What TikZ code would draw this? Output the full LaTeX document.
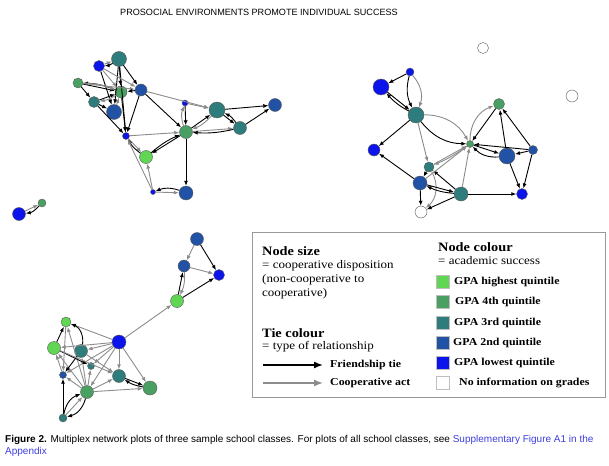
\documentclass[tikz,border=0pt]{standalone}
\usepackage{fontspec}
\setmainfont{Liberation Serif}
\newfontfamily\legfont[FakeStretch=1.12]{Liberation Serif}
\newfontfamily\capfont{Liberation Sans}
\usetikzlibrary{arrows.meta}

\definecolor{gpatop}{RGB}{96,214,84}
\definecolor{gpafour}{RGB}{74,160,98}
\definecolor{gpathree}{RGB}{46,124,124}
\definecolor{gpatwo}{RGB}{34,82,166}
\definecolor{gpalow}{RGB}{12,20,236}
\definecolor{coopgray}{RGB}{140,140,140}
\definecolor{linkblue}{RGB}{62,62,222}

\begin{document}
\begin{tikzpicture}[
		x=1pt, y=-1pt,
		vx/.style={circle, draw=black!65, line width=0.4pt, inner sep=0pt},
		top/.style={vx, fill=gpatop},
		fourth/.style={vx, fill=gpafour},
		third/.style={vx, fill=gpathree},
		second/.style={vx, fill=gpatwo},
		low/.style={vx, fill=gpalow},
		nogpa/.style={vx, fill=white},
		friend/.style={-{Latex[length=5pt,width=4pt]}, black, line width=0.9pt},
		coop/.style={-{Latex[length=5pt,width=4pt]}, coopgray, line width=0.9pt},
		swatch/.style={rectangle, draw=black!25, minimum size=13, inner sep=0pt},
		heading/.style={anchor=west, inner sep=0pt, font=\legfont\fontsize{12.8}{15}\selectfont\bfseries},
		plain/.style={anchor=west, inner sep=0pt, font=\legfont\fontsize{11.6}{14}\selectfont},
		label/.style={anchor=west, inner sep=0pt, font=\legfont\fontsize{10.6}{12}\selectfont\bfseries},
	]
	\useasboundingbox (0,0) rectangle (609,465);

	% title and caption
	\node[font=\capfont\fontsize{9.1}{11}\selectfont] (title) at (259,12) {PROSOCIAL ENVIRONMENTS PROMOTE INDIVIDUAL SUCCESS};
	\node[anchor=north west, inner sep=0pt, align=left, font=\capfont\fontsize{10}{11.6}\selectfont] (caption) at (5,435)
		{\textbf{Figure 2.} Multiplex network plots of three sample school classes. For plots of all school classes, see \textcolor{linkblue}{Supplementary Figure A1 in the}\\\textcolor{linkblue}{Appendix}};

	% class 1 (top left)
	\node[third, minimum size=15] (a1) at (119,59) {};
	\node[low, minimum size=11] (a2) at (99,66) {};
	\node[fourth, minimum size=10] (a3) at (78,83) {};
	\node[fourth, minimum size=12] (a4) at (121,92) {};
	\node[second, minimum size=12] (a5) at (141,90) {};
	\node[third, minimum size=11] (a6) at (94,102) {};
	\node[second, minimum size=15] (a7) at (114,112) {};
	\node[low, minimum size=7] (a8) at (126,136) {};
	\node[low, minimum size=6] (a9) at (185,103) {};
	\node[third, minimum size=16] (a10) at (217,110) {};
	\node[second, minimum size=13] (a11) at (275,105) {};
	\node[third, minimum size=13] (a12) at (240,128) {};
	\node[fourth, minimum size=13] (a13) at (186,132) {};
	\node[top, minimum size=13] (a14) at (146,157) {};
	\node[low, minimum size=5] (a15) at (153,192) {};
	\node[second, minimum size=14] (a16) at (186,193) {};
	\node[low, minimum size=13] (a17) at (19,214) {};
	\node[fourth, minimum size=8] (a18) at (42,203) {};

	\draw[coop] (a2) -- (a1);
	\draw[friend] (a1) to[bend left=15] (a2);
	\draw[friend] (a1) -- (a5);
	\draw[friend] (a1) -- (a4);
	\draw[friend] (a1) -- (a7);
	\draw[friend] (a1) -- (a8);
	\draw[coop] (a2) -- (a4);
	\draw[coop] (a2) -- (a5);
	\draw[friend] (a2) -- (a7);
	\draw[friend] (a3) -- (a4);
	\draw[friend] (a4) to[bend right=10] (a3);
	\draw[coop] (a3) to[bend left=10] (a4);
	\draw[friend] (a3) -- (a6);
	\draw[coop] (a3) -- (a5);
	\draw[friend] (a6) -- (a4);
	\draw[coop] (a4) to[bend left=12] (a6);
	\draw[friend] (a6) -- (a7);
	\draw[friend] (a6) -- (a8);
	\draw[coop] (a7) -- (a4);
	\draw[friend] (a4) -- (a8);
	\draw[friend] (a5) -- (a8);
	\draw[friend] (a5) -- (a4);
	\draw[coop] (a5) -- (a10);
	\draw[friend] (a5) -- (a13);
	\draw[coop] (a8) -- (a13);
	\draw[coop] (a9) -- (a10);
	\draw[friend] (a9) -- (a13);
	\draw[coop] (a13) to[bend left=20] (a9);
	\draw[friend] (a13) -- (a10);
	\draw[coop] (a10) to[bend left=12] (a13);
	\draw[coop] (a13) -- (a12);
	\draw[friend] (a12) to[bend left=8] (a13);
	\draw[friend] (a10) -- (a11);
	\draw[friend] (a10) -- (a12);
	\draw[friend] (a12) to[bend right=15] (a10);
	\draw[friend] (a12) -- (a11);
	\draw[friend] (a13) -- (a16);
	\draw[friend] (a13) -- (a14);
	\draw[friend] (a14) to[bend left=8] (a13);
	\draw[coop] (a8) -- (a14);
	\draw[friend] (a14) to[bend left=12] (a8);
	\draw[coop] (a15) -- (a8);
	\draw[coop] (a15) -- (a14);
	\draw[coop] (a15) -- (a16);
	\draw[friend] (a16) to[bend right=20] (a15);
	\draw[coop] (a17) -- (a18);
	\draw[friend] (a18) to[bend left=20] (a17);

	% class 2 (top right)
	\node[nogpa, minimum size=11] (b1) at (483,48) {};
	\node[nogpa, minimum size=12] (b2) at (572,96) {};
	\node[low, minimum size=8] (b3) at (410,72) {};
	\node[low, minimum size=16] (b4) at (381,87) {};
	\node[third, minimum size=16] (b5) at (416,115) {};
	\node[low, minimum size=12] (b6) at (374,150) {};
	\node[fourth, minimum size=7] (b7) at (470,144) {};
	\node[fourth, minimum size=11] (b8) at (499,104) {};
	\node[second, minimum size=16] (b9) at (507,156) {};
	\node[second, minimum size=9] (b10) at (533,150) {};
	\node[third, minimum size=10] (b11) at (429,167) {};
	\node[second, minimum size=14] (b12) at (420,183) {};
	\node[third, minimum size=14] (b13) at (461,194) {};
	\node[low, minimum size=11] (b14) at (522,194) {};
	\node[nogpa, minimum size=12] (b15) at (421,212) {};

	\draw[friend] (b3) -- (b4);
	\draw[friend] (b3) to[bend right=20] (b5);
	\draw[coop] (b3) to[bend left=30] (b5);
	\draw[friend] (b4) -- (b5);
	\draw[friend] (b5) to[bend left=10] (b4);
	\draw[friend] (b5) -- (b6);
	\draw[coop] (b5) -- (b11);
	\draw[friend] (b5) to[bend right=25] (b7);
	\draw[coop] (b5) to[bend left=30] (b7);
	\draw[coop] (b7) to[bend left=35] (b8);
	\draw[friend] (b8) -- (b7);
	\draw[friend] (b7) -- (b9);
	\draw[friend] (b9) to[bend left=25] (b7);
	\draw[friend] (b10) -- (b7);
	\draw[friend] (b10) -- (b8);
	\draw[friend] (b9) -- (b8);
	\draw[friend] (b10) -- (b9);
	\draw[friend] (b9) -- (b14);
	\draw[friend] (b10) -- (b14);
	\draw[friend] (b12) -- (b6);
	\draw[coop] (b11) to[bend left=40] (b15);
	\draw[friend] (b12) -- (b15);
	\draw[friend] (b12) -- (b13);
	\draw[friend] (b13) to[bend left=10] (b12);
	\draw[friend] (b13) -- (b11);
	\draw[friend] (b11) -- (b12);
	\draw[friend] (b13) -- (b15);
	\draw[friend] (b13) -- (b14);
	\draw[coop] (b13) -- (b7);
	\draw[coop] (b11) -- (b7);
	\draw[coop] (b7) to[bend left=6] (b11);
	\draw[coop] (b12) -- (b7);

	% class 3 (bottom left)
	\node[second, minimum size=13] (c1) at (197,239) {};
	\node[second, minimum size=12] (c2) at (184,266) {};
	\node[low, minimum size=11] (c3) at (219,275) {};
	\node[top, minimum size=13] (c4) at (177,301) {};
	\node[low, minimum size=14] (c5) at (119,342) {};
	\node[top, minimum size=10] (c6) at (66,322) {};
	\node[top, minimum size=13] (c7) at (54,348) {};
	\node[third, minimum size=13] (c8) at (81,351) {};
	\node[third, minimum size=7] (c9) at (91,366) {};
	\node[second, minimum size=7] (c10) at (63,375) {};
	\node[third, minimum size=13] (c11) at (119,376) {};
	\node[fourth, minimum size=14] (c12) at (150,388) {};
	\node[fourth, minimum size=13] (c13) at (87,392) {};
	\node[third, minimum size=8] (c14) at (63,418) {};

	\draw[coop] (c5) -- (c4);
	\draw[friend] (c4) -- (c2);
	\draw[coop] (c2) to[bend left=15] (c4);
	\draw[coop] (c1) -- (c2);
	\draw[friend] (c1) -- (c3);
	\draw[coop] (c2) -- (c3);
	\draw[friend] (c4) -- (c3);
	\draw[coop] (c5) -- (c6);
	\draw[coop] (c5) -- (c7);
	\draw[coop] (c5) -- (c8);
	\draw[coop] (c5) -- (c9);
	\draw[coop] (c5) -- (c10);
	\draw[coop] (c5) -- (c11);
	\draw[coop] (c5) -- (c12);
	\draw[coop] (c5) -- (c13);
	\draw[coop] (c13) -- (c6);
	\draw[coop] (c13) -- (c7);
	\draw[coop] (c13) -- (c8);
	\draw[coop] (c13) -- (c9);
	\draw[coop] (c13) -- (c10);
	\draw[coop] (c13) -- (c11);
	\draw[coop] (c13) -- (c12);
	\draw[friend] (c11) -- (c12);
	\draw[friend] (c12) to[bend left=12] (c11);
	\draw[friend] (c7) -- (c6);
	\draw[friend] (c8) to[bend right=40] (c6);
	\draw[friend] (c7) -- (c9);
	\draw[friend] (c8) -- (c10);
	\draw[coop] (c10) -- (c7);
	\draw[coop] (c7) -- (c11);
	\draw[coop] (c8) -- (c11);
	\draw[coop] (c6) -- (c10);
	\draw[friend] (c14) -- (c10);
	\draw[friend] (c14) to[bend left=30] (c13);
	\draw[friend] (c13) to[bend left=30] (c14);
	\draw[coop] (c14) -- (c13);

	% legend
	\node[draw=black!40, line width=0.6pt, minimum width=353, minimum height=165, inner sep=0pt] (legend) at (428.5,314.5) {};
	\node[heading] (sizehead) at (262,251) {Node size};
	\node[plain] (sizetxt1) at (262,266) {= cooperative disposition};
	\node[plain] (sizetxt2) at (262,280) {(non-cooperative to};
	\node[plain] (sizetxt3) at (262,294) {cooperative)};
	\node[heading] (tiehead) at (262,333) {Tie colour};
	\node[plain] (tietxt) at (262,347) {= type of relationship};
	\coordinate (fstart) at (263,365);
	\coordinate (fend) at (323,365);
	\coordinate (cstart) at (263,383);
	\coordinate (cend) at (323,383);
	\draw[-{Latex[length=9pt,width=7pt]}, black, line width=1.4pt] (fstart) -- (fend);
	\draw[-{Latex[length=9pt,width=7pt]}, coopgray, line width=1.4pt] (cstart) -- (cend);
	\node[label] (friendtxt) at (330,365) {Friendship tie};
	\node[label] (cooptxt) at (330,383) {Cooperative act};

	\node[heading] (colhead) at (438,247) {Node colour};
	\node[plain] (coltxt) at (438,261) {= academic success};
	\node[swatch, fill=gpatop] (s1) at (442.5,282) {};
	\node[swatch, fill=gpafour] (s2) at (442.5,302) {};
	\node[swatch, fill=gpathree] (s3) at (442.5,323) {};
	\node[swatch, fill=gpatwo] (s4) at (442.5,343) {};
	\node[swatch, fill=gpalow] (s5) at (442.5,363) {};
	\node[swatch, fill=white] (s6) at (442.5,383) {};
	\node[label] (l1) at (454,282) {GPA highest quintile};
	\node[label] (l2) at (455,302) {GPA 4th quintile};
	\node[label] (l3) at (454,323) {GPA 3rd quintile};
	\node[label] (l4) at (453,343) {GPA 2nd quintile};
	\node[label] (l5) at (454,363) {GPA lowest quintile};
	\node[label] (l6) at (459,383) {No information on grades};
\end{tikzpicture}
\end{document}
